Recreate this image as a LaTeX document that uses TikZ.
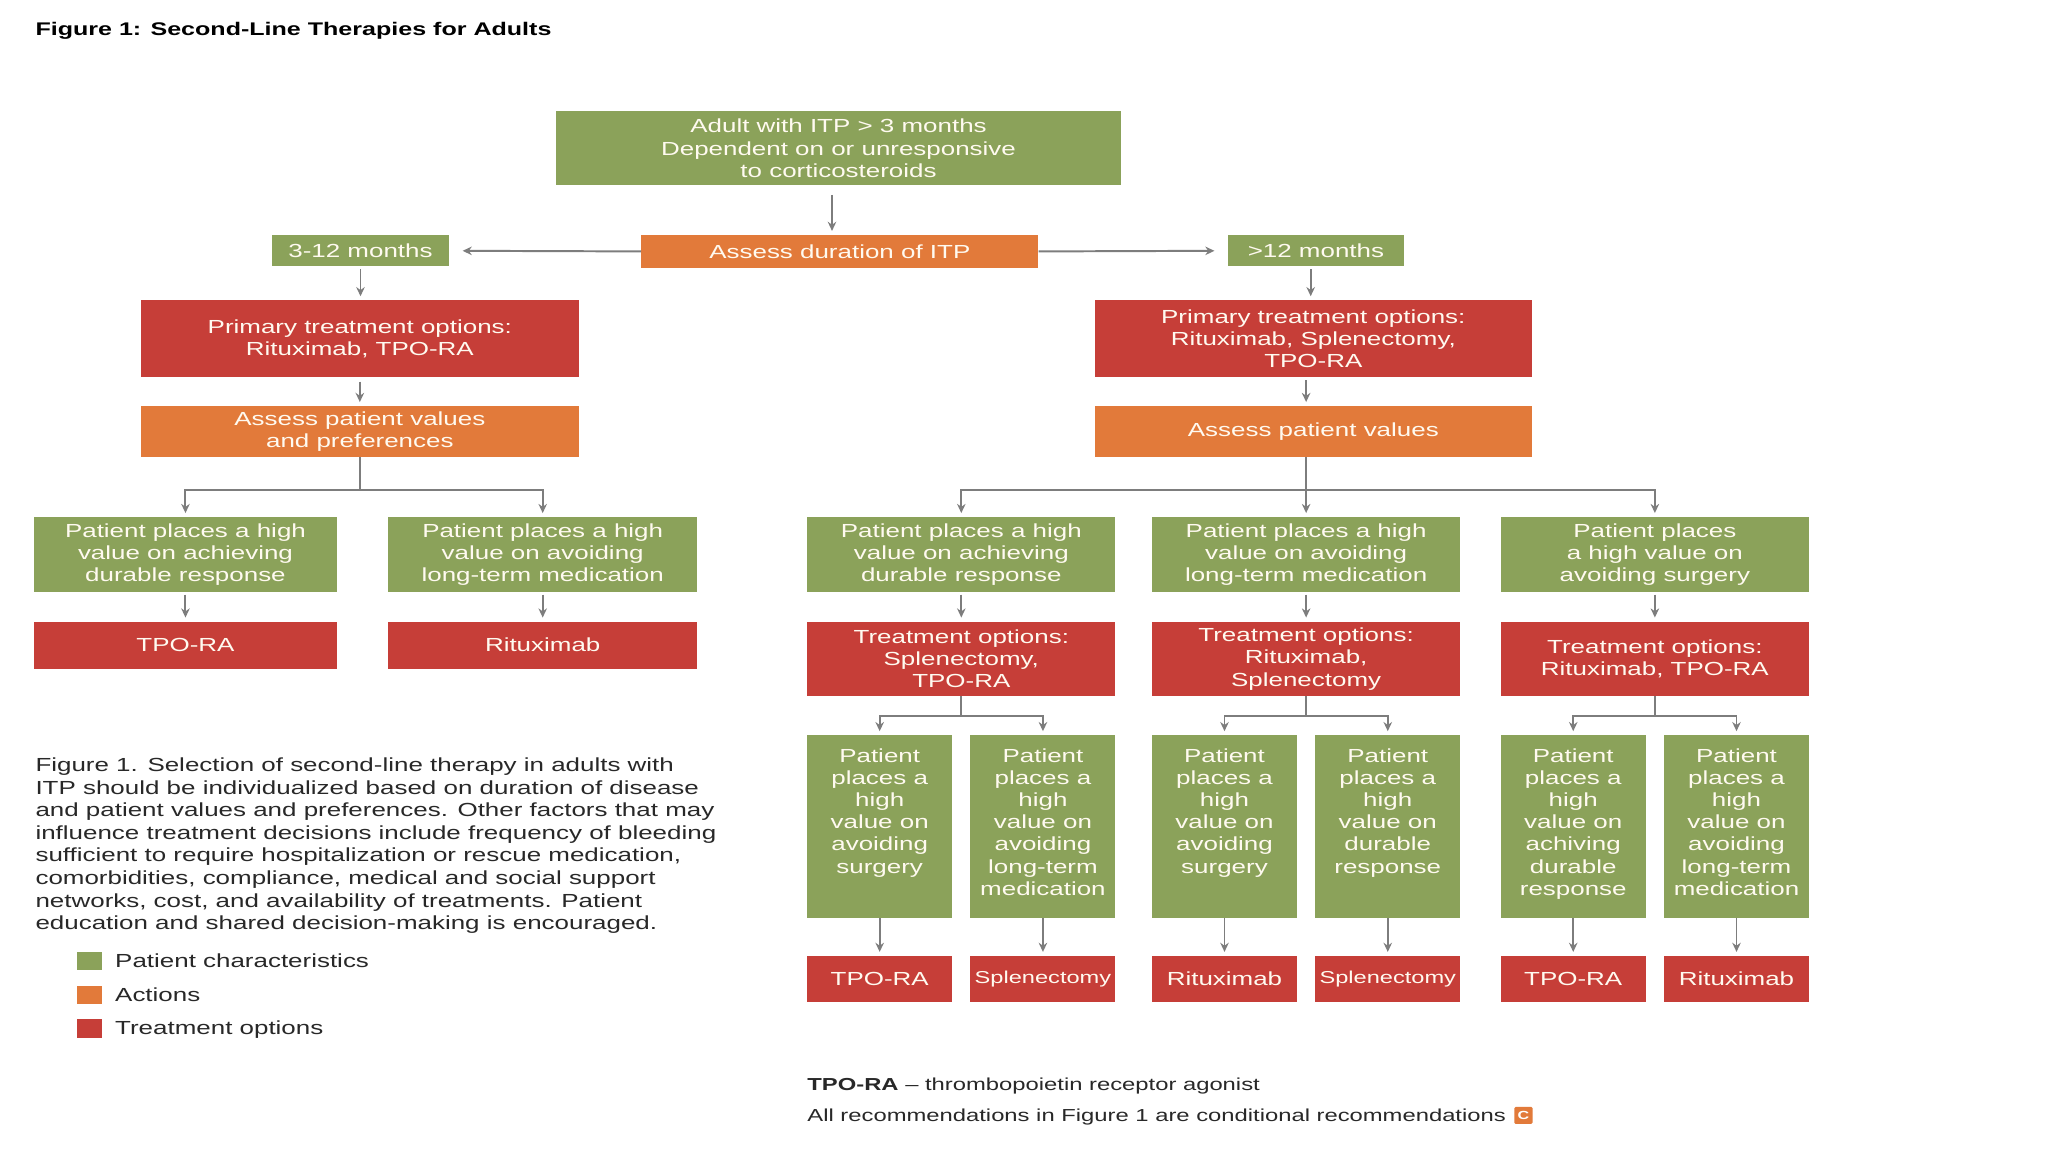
\documentclass[tikz,border=0pt]{standalone}
\usepackage{fontspec}
\setmainfont{Liberation Sans}[FakeStretch=1.37]
\usetikzlibrary{arrows.meta}
\definecolor{cgreen}{RGB}{139,162,90}
\definecolor{corange}{RGB}{226,122,58}
\definecolor{cred}{RGB}{198,62,56}
\definecolor{cgray}{RGB}{125,125,125}
\definecolor{boxtext}{RGB}{255,250,240}
\definecolor{captext}{RGB}{40,40,40}
\newcommand\bxfont{\fontsize{14.5}{17}\selectfont}
\newcommand\capfont{\fontsize{14.5}{17.3}\selectfont}
\newcommand\footfont{\fontsize{13.3}{16}\selectfont}
\tikzset{
  basebox/.style={inner sep=0pt, align=center, text=boxtext, font=\bxfont},
  gbox/.style={basebox, fill=cgreen},
  obox/.style={basebox, fill=corange},
  rbox/.style={basebox, fill=cred},
  btext/.style={inner sep=0pt, align=center, text=boxtext, font=\bxfont},
  arr/.style={draw=cgray, line width=1.5pt, -{Stealth[length=7pt,width=6.5pt]}, shorten >=3pt},
  cline/.style={draw=cgray, line width=1.5pt},
  plain/.style={inner sep=0pt, text=captext, font=\capfont},
}
\begin{document}
\begin{tikzpicture}[x=1pt,y=-1pt]
\useasboundingbox (0,0) rectangle (1568,882);
\fill[white] (0,0) rectangle (1568,882);

% title
\node[anchor=base west, inner sep=0pt, font=\fontsize{14}{16}\selectfont\bfseries] (title) at (27,27) {Figure 1: Second-Line Therapies for Adults};

% top
\node[gbox, minimum width=432pt, minimum height=57pt] (top) at (642,113.5) {Adult with ITP > 3 months\\Dependent on or unresponsive\\to corticosteroids};
\node[obox, minimum width=304pt, minimum height=25pt] (dur) at (643,192.5) {Assess duration of ITP};
\node[gbox, minimum width=136pt, minimum height=24pt] (m1) at (276,192) {3-12 months};
\node[gbox, minimum width=135pt, minimum height=24pt] (m2) at (1007.5,192) {>12 months};

% left branch
\node[rbox, minimum width=335pt, minimum height=59pt] (lp) at (275.5,259.5) {Primary treatment options:\\Rituximab, TPO-RA};
\node[obox, minimum width=335pt, minimum height=39pt] (la) at (275.5,330.5) {Assess patient values\\and preferences};
\node[gbox, minimum width=232pt, minimum height=57pt] (lg1) at (142,424.5) {Patient places a high\\value on achieving\\durable response};
\node[gbox, minimum width=237pt, minimum height=57pt] (lg2) at (415.5,424.5) {Patient places a high\\value on avoiding\\long-term medication};
\node[rbox, minimum width=232pt, minimum height=36pt] (lr1) at (142,494) {TPO-RA};
\node[rbox, minimum width=237pt, minimum height=36pt] (lr2) at (415.5,494) {Rituximab};

% right branch
\node[rbox, minimum width=335pt, minimum height=59pt] (rp) at (1005.5,259.5) {Primary treatment options:\\Rituximab, Splenectomy,\\TPO-RA};
\node[obox, minimum width=335pt, minimum height=39pt] (ra) at (1005.5,330.5) {Assess patient values};
\node[gbox, minimum width=236pt, minimum height=57pt] (rg1) at (736,424.5) {Patient places a high\\value on achieving\\durable response};
\node[gbox, minimum width=236pt, minimum height=57pt] (rg2) at (1000,424.5) {Patient places a high\\value on avoiding\\long-term medication};
\node[gbox, minimum width=236pt, minimum height=57pt] (rg3) at (1267,424.5) {Patient places\\a high value on\\avoiding surgery};
\node[rbox, minimum width=236pt, minimum height=57pt] (rr1) at (736,504.5) {Treatment options:\\Splenectomy,\\TPO-RA};
\node[rbox, minimum width=236pt, minimum height=57pt] (rr2) at (1000,504.5) {Treatment options:\\Rituximab,\\Splenectomy};
\node[rbox, minimum width=236pt, minimum height=57pt] (rr3) at (1267,504.5) {Treatment options:\\Rituximab, TPO-RA};

% tall boxes
\node[gbox, minimum width=111pt, minimum height=140pt] (t1) at (673.5,633) {};
\node[gbox, minimum width=111pt, minimum height=140pt] (t2) at (798.5,633) {};
\node[gbox, minimum width=111pt, minimum height=140pt] (t3) at (937.5,633) {};
\node[gbox, minimum width=111pt, minimum height=140pt] (t4) at (1062.5,633) {};
\node[gbox, minimum width=111pt, minimum height=140pt] (t5) at (1204.5,633) {};
\node[gbox, minimum width=111pt, minimum height=140pt] (t6) at (1329.5,633) {};
\node[btext, anchor=north] (t1x) at ([yshift=-10pt]t1.north) {Patient\\places a\\high\\value on\\avoiding\\surgery};
\node[btext, anchor=north] (t2x) at ([yshift=-10pt]t2.north) {Patient\\places a\\high\\value on\\avoiding\\long-term\\medication};
\node[btext, anchor=north] (t3x) at ([yshift=-10pt]t3.north) {Patient\\places a\\high\\value on\\avoiding\\surgery};
\node[btext, anchor=north] (t4x) at ([yshift=-10pt]t4.north) {Patient\\places a\\high\\value on\\durable\\response};
\node[btext, anchor=north] (t5x) at ([yshift=-10pt]t5.north) {Patient\\places a\\high\\value on\\achiving\\durable\\response};
\node[btext, anchor=north] (t6x) at ([yshift=-10pt]t6.north) {Patient\\places a\\high\\value on\\avoiding\\long-term\\medication};

% bottom reds
\node[rbox, minimum width=111pt, minimum height=35pt] (b1) at (673.5,749.5) {TPO-RA};
\node[rbox, minimum width=111pt, minimum height=35pt, font=\fontsize{13.2}{15}\selectfont] (b2) at (798.5,749.5) {Splenectomy};
\node[rbox, minimum width=111pt, minimum height=35pt] (b3) at (937.5,749.5) {Rituximab};
\node[rbox, minimum width=111pt, minimum height=35pt, font=\fontsize{13.2}{15}\selectfont] (b4) at (1062.5,749.5) {Splenectomy};
\node[rbox, minimum width=111pt, minimum height=35pt] (b5) at (1204.5,749.5) {TPO-RA};
\node[rbox, minimum width=111pt, minimum height=35pt] (b6) at (1329.5,749.5) {Rituximab};

% connectors top
\draw[arr, shorten <=7pt] ([xshift=-5pt]top.south) -- ([xshift=-5pt]top.south |- dur.north);
\draw[arr, shorten >=10pt] (dur.west) -- (m1.east);
\draw[arr, shorten >=10pt] (dur.east) -- (m2.west);

% left connectors
\draw[arr, shorten <=2pt] (m1.south) -- (m1.south |- lp.north);
\draw[arr, shorten <=3pt] (lp.south) -- (la.north);
\path (la.south) ++(0,25) coordinate (lj);
\draw[cline] (la.south) -- (lj);
\draw[arr] (lj) -| (lg1.north);
\draw[arr] (lj) -| (lg2.north);
\draw[arr, shorten <=2pt] (lg1.south) -- (lr1.north);
\draw[arr, shorten <=2pt] (lg2.south) -- (lr2.north);

% right connectors
\draw[arr, shorten <=2pt] ([xshift=-4pt]m2.south) -- ([xshift=-4pt]m2.south |- rp.north);
\draw[arr, shorten <=2pt] (rg2.north |- rp.south) -- (rg2.north |- ra.north);
\path (rg2.north |- ra.south) ++(0,25) coordinate (rj);
\draw[cline] (rg2.north |- ra.south) -- (rj);
\draw[arr] (rj) -| (rg1.north);
\draw[arr] (rj) -- (rg2.north);
\draw[arr] (rj) -| (rg3.north);
\draw[arr, shorten <=2pt] (rg1.south) -- (rr1.north);
\draw[arr, shorten <=2pt] (rg2.south) -- (rr2.north);
\draw[arr, shorten <=2pt] (rg3.south) -- (rr3.north);

\path (rr1.south) ++(0,15) coordinate (s1);
\path (rr2.south) ++(0,15) coordinate (s2);
\path (rr3.south) ++(0,15) coordinate (s3);
\draw[cline] (rr1.south) -- (s1);
\draw[cline] (rr2.south) -- (s2);
\draw[cline] (rr3.south) -- (s3);
\draw[arr] (s1) -| (t1.north);
\draw[arr] (s1) -| (t2.north);
\draw[arr] (s2) -| (t3.north);
\draw[arr] (s2) -| (t4.north);
\draw[arr] (s3) -| (t5.north);
\draw[arr] (s3) -| (t6.north);
\draw[arr] (t1.south) -- (b1.north);
\draw[arr] (t2.south) -- (b2.north);
\draw[arr] (t3.south) -- (b3.north);
\draw[arr] (t4.south) -- (b4.north);
\draw[arr] (t5.south) -- (b5.north);
\draw[arr] (t6.south) -- (b6.north);

% caption
\node[plain, anchor=north west, align=left] (cap) at (27,580) {Figure 1. Selection of second-line therapy in adults with\\ITP should be individualized based on duration of disease\\and patient values and preferences. Other factors that may\\influence treatment decisions include frequency of bleeding\\sufficient to require hospitalization or rescue medication,\\comorbidities, compliance, medical and social support\\networks, cost, and availability of treatments. Patient\\education and shared decision-making is encouraged.};

% legend
\node[fill=cgreen, minimum width=19pt, minimum height=14pt, inner sep=0pt] (k1) at (68.5,736) {};
\node[fill=corange, minimum width=19pt, minimum height=14pt, inner sep=0pt] (k2) at (68.5,762) {};
\node[fill=cred, minimum width=19pt, minimum height=14pt, inner sep=0pt] (k3) at (68.5,787.5) {};
\node[plain, anchor=base west] (k1t) at (88,741) {Patient characteristics};
\node[plain, anchor=base west] (k2t) at (88,767) {Actions};
\node[plain, anchor=base west] (k3t) at (88,792) {Treatment options};

% footer
\node[plain, anchor=base west, font=\footfont] (f1) at (618,835) {\textbf{TPO-RA} – thrombopoietin receptor agonist};
\node[plain, anchor=base west, font=\footfont] (f2) at (618,859) {All recommendations in Figure 1 are conditional recommendations};
\node[fill=corange, rounded corners=1pt, minimum width=14pt, minimum height=13pt, inner sep=0pt, text=white, font=\fontsize{9}{9}\selectfont\bfseries, anchor=west] (cbox) at ([xshift=6pt]f2.east |- 0,854) {C};
\end{tikzpicture}
\end{document}
